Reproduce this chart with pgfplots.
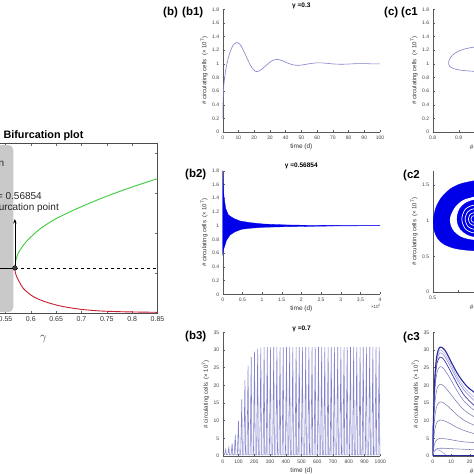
\documentclass[border=0pt]{standalone}
\usepackage{pgfplots}
\pgfplotsset{compat=1.18}
\usetikzlibrary{arrows.meta}
\usepackage{fontspec}
\setmainfont{Liberation Sans}

\definecolor{osc}{HTML}{8080CC}
\definecolor{dense}{HTML}{0000E8}
\definecolor{orbit}{HTML}{2A2A9C}
\definecolor{upperbr}{HTML}{3ECB3E}
\definecolor{lowerbr}{HTML}{C81E32}
\definecolor{lav1}{HTML}{A8A8EC}
\definecolor{lav2}{HTML}{8A8AD8}
\definecolor{midblue}{HTML}{3C3CAC}
\definecolor{lav3}{HTML}{7A7AC4}
\definecolor{slate}{HTML}{7C7CB0}

\pgfplotsset{
  series panel/.style={
    scale only axis, anchor=south west,
    axis lines=left, axis line style={-, black!65, line width=0.4pt},
    tick align=inside, major tick length=2pt,
    tick style={black!65, line width=0.35pt},
    ticklabel style={font=\fontsize{5}{6}\selectfont, text=black!75},
    /pgf/number format/assume math mode=true,
    /pgf/number format/1000 sep={},
    xlabel style={font=\fontsize{6.5}{7.5}\selectfont, text=black!80, inner sep=1pt},
    ylabel style={font=\fontsize{6}{7}\selectfont, text=black!80, inner sep=1pt},
    title style={font=\bfseries\fontsize{6.5}{7.5}\selectfont, at={(0.5,1)}, anchor=base, inner sep=0pt},
    ylabel={\# circulating cells\ \ (× 10\textsuperscript{7})},
  },
  phase panel/.style={
    series panel,
    xlabel={\# proliferating cells\ \ (× 10\textsuperscript{7})},
    xlabel style={at={(ticklabel cs:0)}, anchor=north west, xshift=36pt},
  },
}
\tikzset{plabel/.style={anchor=west, inner sep=0pt, font=\bfseries\fontsize{11.5}{13}\selectfont}}

\begin{document}
\begin{tikzpicture}
\useasboundingbox (0,0) rectangle (474pt,-474pt);
\clip (0,0) rectangle (474pt,-474pt);
\fill[white] (0,0) rectangle (474pt,-474pt);

% ---------------- (a) bifurcation diagram ----------------
\begin{axis}[
  scale only axis, anchor=south west, at={(-70.5pt,-313pt)},
  width=228pt, height=170pt,
  xmin=0.4, xmax=0.85, ymin=0, ymax=4.25,
  xtick={0.4,0.45,0.5,0.55,0.6,0.65,0.7,0.75,0.8,0.85},
  xticklabels={0.4,0.45,0.5,0.55,0.6,0.65,0.7,0.75,0.8,0.85},
  ytick={0,1,2,3,4},
  tick align=inside, major tick length=2.5pt,
  tick style={black!60, line width=0.35pt},
  axis line style={black!70, line width=0.5pt},
  ticklabel style={font=\fontsize{7}{8}\selectfont, text=black!80},
  xlabel={$\gamma$}, xlabel style={font=\fontsize{12}{14}\selectfont, text=black!80, yshift=-7pt},
  title={Bifurcation plot},
  title style={font=\bfseries\fontsize{10.8}{12}\selectfont, at={(0.5,1)}, anchor=base, yshift=-1.5pt, inner sep=0pt},
]
\addplot[draw=none, fill=black!21, rounded corners=5pt] coordinates {(0.37,4.2) (0.5654,4.2) (0.5654,0.02) (0.37,0.02)} -- cycle;
\addplot[black, line width=0.8pt] coordinates {(0.4,1.126) (0.56854,1.126)};
\addplot[black, line width=0.8pt, dash pattern=on 3.5pt off 2.5pt] coordinates {(0.56854,1.126) (0.85,1.126)};
\addplot[upperbr, line width=0.9pt, smooth] coordinates {
 (0.56854,1.126) (0.5695,1.25) (0.5715,1.37) (0.575,1.49) (0.58,1.6) (0.59,1.77)
 (0.60,1.9) (0.62,2.12) (0.65,2.36) (0.70,2.66) (0.75,2.92) (0.80,3.15) (0.85,3.36)};
\addplot[lowerbr, line width=0.9pt, smooth] coordinates {
 (0.56854,1.126) (0.5695,1.0) (0.572,0.91) (0.578,0.76) (0.585,0.616) (0.595,0.5)
 (0.605,0.408) (0.62,0.32) (0.638,0.242) (0.655,0.185) (0.671,0.145) (0.70,0.09)
 (0.737,0.051) (0.77,0.035) (0.802,0.026) (0.85,0.017)};
\addplot[black, line width=0.6pt, -{Stealth[length=4.5pt,width=3.5pt]}] coordinates {(0.56854,1.126) (0.56854,2.35)};
\addplot[only marks, mark=*, mark size=2.3pt, mark options={fill=black!75, draw=black}] coordinates {(0.56854,1.126)};
\node[anchor=east, inner sep=0pt, font=\fontsize{10}{12}\selectfont, text=black!85] at (axis cs:0.548,3.725) {Stable region};
\node[anchor=east, inner sep=0pt, font=\fontsize{10}{12}\selectfont, text=black!85] at (axis cs:0.622,2.9) {γ = 0.56854};
\node[anchor=east, inner sep=0pt, font=\fontsize{10}{12}\selectfont, text=black!85] at (axis cs:0.6556,2.625) {Bifurcation point};
\end{axis}

% ---------------- (b1) ----------------
\begin{axis}[series panel, at={(222.7pt,-132pt)}, width=157.3pt, height=122.7pt,
  xmin=0, xmax=100, ymin=0, ymax=1.8,
  xtick={0,10,...,100}, ytick={0,0.2,0.4,0.6,0.8,1,1.2,1.4,1.6,1.8},
  xlabel={time (d)}, title={γ =0.3}, title style={yshift=-4pt}]
\addplot[osc, line width=0.6pt, smooth] coordinates {
 (0,0.2) (0.3,0.5) (0.7,0.68) (1.5,0.84) (2.5,0.98) (3.5,1.08) (4.5,1.16) (5.5,1.22)
 (6.5,1.27) (7.5,1.295) (8.5,1.31) (9.5,1.31) (10.5,1.295) (11.5,1.27) (12.5,1.23)
 (13.5,1.18) (14.5,1.13) (15.5,1.08) (16.5,1.03) (17.5,0.985) (18.5,0.945) (19.5,0.915)
 (20.5,0.895) (21.5,0.887) (22.5,0.89) (23.5,0.9) (25,0.925) (27,0.965) (29,1.005)
 (31,1.04) (33,1.06) (34.5,1.065) (36,1.06) (38,1.045) (40,1.025) (42,1.005) (44,0.99)
 (46,0.98) (48,0.978) (50,0.982) (53,0.993) (56,1.005) (59,1.013) (62,1.015) (65,1.01)
 (68,1.003) (72,0.996) (76,0.994) (80,0.997) (84,1.002) (88,1.004) (92,1.002) (96,0.999) (100,1.0)};
\end{axis}

% ---------------- (b2) ----------------
\begin{axis}[series panel, at={(222.7pt,-294.3pt)}, width=157.3pt, height=123.6pt,
  xmin=0, xmax=4, ymin=0, ymax=1.8,
  xtick={0,0.5,1,1.5,2,2.5,3,3.5,4}, ytick={0,0.2,0.4,0.6,0.8,1,1.2,1.4,1.6,1.8},
  xlabel={time (d)}, title={γ =0.56854}, title style={yshift=-2.6pt}]
\addplot[fill=dense, draw=dense, line width=0.3pt] coordinates {
 (0,1.8) (0.01,1.62) (0.02,1.52) (0.034,1.42) (0.076,1.25) (0.144,1.155) (0.27,1.107)
 (0.44,1.068) (0.69,1.044) (1.03,1.024) (1.63,1.01) (2.2,1.005) (3.0,1.002) (4,1.0)
 (4,0.998) (3,0.996) (2.2,0.99) (1.63,0.985) (1.03,0.976) (0.69,0.962) (0.48,0.947)
 (0.31,0.91) (0.186,0.864) (0.1,0.79) (0.06,0.72) (0.017,0.646) (0.003,0.58) (0,0.6)} -- cycle;
\end{axis}
\node[font=\fontsize{4.5}{5}\selectfont, text=black!75] at (376pt,-306.7pt) {×10\textsuperscript{5}};

% ---------------- (b3) ----------------
\begin{axis}[series panel, at={(222.7pt,-456pt)}, width=157.6pt, height=123.7pt,
  xmin=0, xmax=1000, ymin=0, ymax=35,
  xtick={0,100,...,1000}, ytick={0,5,...,35},
  xlabel={time (d)}, title={γ =0.7}, title style={yshift=-4.3pt}]
\addplot[osc, line width=0.55pt] coordinates {
 (0,1.0) (12,0.5) (19,1.8) (23,0.4) (32,0.4) (39,2.4) (43,0.3) (53,0.3) (60,3.6) (64,0.3)
 (73,0.3) (80,6.0) (84,0.3) (93,0.3) (100,10) (104,0.3) (114,0.3) (121,16) (125,0.3)
 (134,0.3) (141,21.5) (145,0.3) (154,0.3) (161,25.5) (165,0.3) (174,0.3) (181,28) (185,0.3)
 (195,0.3) (202,29.5) (206,0.3) (215,0.3) (222,30.3) (226,0.3) (235,0.3) (242,30.7) (246,0.3)
 (256,0.3) (263,30.8) (267,0.3) (276,0.3) (283,30.8) (287,0.3) (296,0.3) (303,30.8) (307,0.3)
 (317,0.3) (324,30.8) (328,0.3) (337,0.3) (344,30.8) (348,0.3) (357,0.3) (364,30.8) (368,0.3)
 (377,0.3) (384,30.8) (388,0.3) (398,0.3) (405,30.8) (409,0.3) (418,0.3) (425,30.8) (429,0.3)
 (438,0.3) (445,30.8) (449,0.3) (459,0.3) (466,30.8) (470,0.3) (479,0.3) (486,30.8) (490,0.3)
 (499,0.3) (506,30.8) (510,0.3) (520,0.3) (527,30.8) (531,0.3) (540,0.3) (547,30.8) (551,0.3)
 (560,0.3) (567,30.8) (571,0.3) (580,0.3) (587,30.8) (591,0.3) (601,0.3) (608,30.8) (612,0.3)
 (621,0.3) (628,30.8) (632,0.3) (641,0.3) (648,30.8) (652,0.3) (662,0.3) (669,30.8) (673,0.3)
 (682,0.3) (689,30.8) (693,0.3) (702,0.3) (709,30.8) (713,0.3) (723,0.3) (730,30.8) (734,0.3)
 (743,0.3) (750,30.8) (754,0.3) (763,0.3) (770,30.8) (774,0.3) (783,0.3) (790,30.8) (794,0.3)
 (804,0.3) (811,30.8) (815,0.3) (824,0.3) (831,30.8) (835,0.3) (844,0.3) (851,30.8) (855,0.3)
 (865,0.3) (872,30.8) (876,0.3) (885,0.3) (892,30.8) (896,0.3) (905,0.3) (912,30.8) (916,0.3)
 (926,0.3) (933,30.8) (937,0.3) (946,0.3) (953,30.8) (957,0.3) (966,0.3) (973,30.8) (977,0.3)
 (986,0.3) (993,30.8) (997,0.3) (1000,0.5)};
\end{axis}

% ---------------- (c1) ----------------
\begin{axis}[phase panel, at={(432.7pt,-132pt)}, width=130pt, height=122.7pt,
  xmin=0.8, xmax=1.3, ymin=0, ymax=1.8,
  xtick={0.8,0.9,1,1.1,1.2,1.3}, ytick={0,0.2,0.4,0.6,0.8,1,1.2,1.4,1.6,1.8}]
\addplot[osc, line width=0.6pt, smooth] coordinates {
 (1.10,1.05) (1.05,1.22) (0.99,1.25) (0.96,1.245) (0.93,1.225) (0.905,1.195) (0.885,1.155)
 (0.87,1.1) (0.862,1.04) (0.861,1.0) (0.865,0.965) (0.878,0.935) (0.9,0.912) (0.93,0.898)
 (0.96,0.89) (1.0,0.885) (1.06,0.9) (1.10,1.05)};
\end{axis}

% ---------------- (c2) ----------------
\begin{axis}[phase panel, at={(432.7pt,-292pt)}, width=253pt, height=121pt,
  xmin=0.5, xmax=1.5, ymin=0, ymax=1.7,
  xtick={0.5,0.6,0.7,0.8,0.9,1,1.1,1.2,1.3,1.4,1.5},
  xticklabels={0.5,,,,,1,,,,,1.5}, ytick={0,0.5,1,1.5}]
\addplot[fill=dense, draw=dense, line width=0.3pt, smooth] coordinates {
 (0.80,1.10) (0.76,1.45) (0.70,1.575) (0.66,1.56) (0.61,1.52) (0.57,1.45) (0.535,1.33)
 (0.512,1.18) (0.502,1.0) (0.506,0.86) (0.52,0.75) (0.545,0.67) (0.59,0.61) (0.66,0.58)
 (0.72,0.585) (0.78,0.7) (0.80,1.10)} -- cycle;
\addplot[fill=white, draw=none, smooth] coordinates {
 (0.78,1.05) (0.75,1.3) (0.70,1.36) (0.66,1.335) (0.62,1.29) (0.59,1.2) (0.574,1.1)
 (0.568,1.02) (0.572,0.93) (0.585,0.85) (0.61,0.78) (0.64,0.745) (0.68,0.73) (0.73,0.75)
 (0.78,1.05)} -- cycle;
\addplot[fill=dense, draw=dense, line width=0.3pt, smooth] coordinates {
 (0.76,1.03) (0.73,1.27) (0.70,1.3) (0.66,1.29) (0.63,1.25) (0.607,1.17) (0.597,1.07)
 (0.598,0.97) (0.61,0.88) (0.635,0.81) (0.665,0.775) (0.70,0.77) (0.73,0.8) (0.76,1.03)} -- cycle;
\addplot[white, line width=0.7pt, smooth] coordinates {
 (0.713,1.025) (0.699,1.163) (0.664,1.22) (0.629,1.163) (0.615,1.025) (0.629,0.887)
 (0.664,0.83) (0.699,0.887) (0.713,1.025)};
\addplot[white, line width=0.7pt, smooth] coordinates {
 (0.700,1.025) (0.689,1.128) (0.664,1.17) (0.639,1.128) (0.628,1.025) (0.639,0.922)
 (0.664,0.88) (0.689,0.922) (0.700,1.025)};
\addplot[white, line width=0.7pt, smooth] coordinates {
 (0.687,1.025) (0.680,1.089) (0.664,1.115) (0.648,1.089) (0.641,1.025) (0.648,0.961)
 (0.664,0.935) (0.680,0.961) (0.687,1.025)};
\addplot[white, line width=0.6pt, smooth] coordinates {
 (0.677,1.025) (0.673,1.06) (0.664,1.075) (0.655,1.06) (0.651,1.025) (0.655,0.99)
 (0.664,0.975) (0.673,0.99) (0.677,1.025)};
\end{axis}

% ---------------- (c3) ----------------
\begin{axis}[phase panel, at={(432.7pt,-456pt)}, width=74pt, height=123.7pt,
  xmin=0, xmax=40, ymin=0, ymax=35,
  xtick={0,10,20,30,40}, ytick={0,5,...,35}]
\addplot[slate, line width=0.55pt, smooth] coordinates {(0,0.2) (0.3,0.7) (0.8,1.3) (1.5,1.8) (2.5,2.1) (4,2.2) (6,2.2) (9,2.1) (13,2.0) (17,1.9) (22,1.8) (28,1.7)};
\addplot[slate, line width=0.55pt, smooth] coordinates {(0,0.2) (0.3,1.5) (0.8,3.0) (1.5,4.1) (2.5,4.75) (4,5.0) (6,4.9) (9,4.7) (13,4.3) (17,4.0) (22,3.8) (28,3.6)};
\addplot[slate, line width=0.55pt, smooth] coordinates {(0,0.2) (0.3,3.1) (0.8,6.1) (1.5,8.4) (2.5,9.7) (4,10.2) (6,10.0) (9,9.3) (13,8.1) (17,7.2) (22,6.4) (28,5.6)};
\addplot[slate, line width=0.55pt, smooth] coordinates {(0,0.2) (0.3,4.6) (0.8,9.2) (1.5,12.5) (2.5,14.5) (4,15.3) (6,15.0) (9,13.7) (13,11.7) (17,10.1) (22,8.8) (28,7.5)};
\addplot[slate, line width=0.55pt, smooth] coordinates {(0,0.2) (0.3,6.1) (0.8,12.2) (1.5,16.6) (2.5,19.3) (4,20.3) (6,19.8) (9,18.0) (13,15.3) (17,13.0) (22,11.2) (28,9.4)};
\addplot[lav3, line width=0.55pt, smooth] coordinates {(0,0.2) (0.3,7.6) (0.8,15.2) (1.5,20.7) (2.5,24.0) (4,25.3) (6,24.7) (9,22.3) (13,18.6) (17,15.5) (22,13.1) (28,10.7)};
\addplot[midblue, line width=0.7pt, smooth] coordinates {(0,0.2) (0.3,8.4) (0.8,16.8) (1.5,23.0) (2.5,26.6) (4,28.0) (6,27.3) (9,24.6) (13,20.6) (17,17.2) (22,14.5) (28,11.8)};
\addplot[lav2, line width=0.55pt, smooth] coordinates {(0,0.2) (0.3,8.8) (0.8,17.5) (1.5,23.9) (2.5,27.7) (4,29.2) (6,28.5) (9,25.9) (13,21.9) (17,18.6) (22,15.9) (28,13.2)};
\addplot[lav1, line width=0.55pt, smooth] coordinates {(0,0.2) (0.3,9.0) (0.8,18.0) (1.5,24.6) (2.5,28.5) (4,30.0) (6,29.3) (9,26.7) (13,22.7) (17,19.4) (22,16.8) (28,14.2)};
\addplot[orbit, line width=1.1pt, smooth] coordinates {(0,0.2) (0.3,8) (0.7,16) (1.2,22.5) (2,27.5) (3,30) (4,30.8) (5,30.7) (6.5,30) (8,28.7) (10,26.6) (12,24.6) (14,22.8) (16,21.3) (18,20) (20,19) (22,18.2) (25,17) (30,15)};
\addplot[lav1, line width=0.6pt, smooth] coordinates {(0,0.2) (0.5,1.2) (2,1.8) (4,1.5) (6,0.8) (7,0.3) (4,0.15) (0,0.2)};
\addplot[orbit, line width=1.0pt] coordinates {(0,0.25) (40,0.25)};
\end{axis}

% panel labels
\node[plabel] at (163pt,-12.3pt) {(b)};
\node[plabel] at (182pt,-12.3pt) {(b1)};
\node[plabel] at (185pt,-175pt) {(b2)};
\node[plabel] at (185pt,-336.7pt) {(b3)};
\node[plabel] at (384pt,-12.3pt) {(c)};
\node[plabel] at (401pt,-12.3pt) {(c1};
\node[plabel] at (403pt,-176pt) {(c2};
\node[plabel] at (403pt,-338pt) {(c3};
\end{tikzpicture}
\end{document}
